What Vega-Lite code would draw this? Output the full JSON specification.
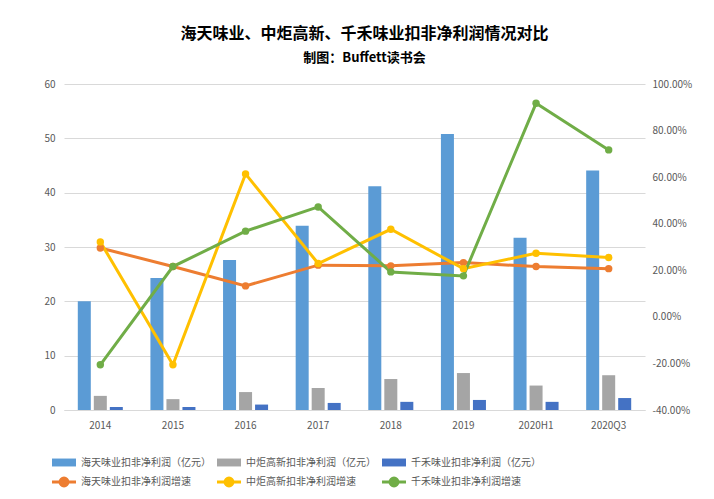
{
  "$schema": "https://vega.github.io/schema/vega-lite/v6.json",
  "width": 581,
  "height": 326,
  "autosize": "none",
  "padding": {"left": 64, "top": 84, "right": 69, "bottom": 89},
  "background": "white",
  "title": {
    "text": "海天味业、中炬高新、千禾味业扣非净利润情况对比",
    "subtitle": "制图：Buffett读书会",
    "anchor": "middle",
    "dx": 10,
    "offset": 14,
    "font": "Noto Sans CJK SC",
    "fontSize": 16,
    "fontWeight": "bold",
    "color": "#000000",
    "subtitleFont": "Noto Sans CJK SC",
    "subtitleFontSize": 13,
    "subtitleFontWeight": "bold",
    "subtitleColor": "#000000",
    "subtitlePadding": 10
  },
  "config": {
    "view": {"stroke": null},
    "axis": {
      "labelFont": "Noto Sans CJK SC",
      "labelFontSize": 10,
      "labelColor": "#595959",
      "domain": false,
      "ticks": false,
      "title": null
    },
    "legend": {
      "labelFont": "Noto Sans CJK SC",
      "labelFontSize": 10,
      "labelColor": "#595959"
    }
  },
  "datasets": {
    "profit": [
      {"period": "2014", "series": "海天味业扣非净利润（亿元）", "value": 20.0},
      {"period": "2014", "series": "中炬高新扣非净利润（亿元）", "value": 2.6},
      {"period": "2014", "series": "千禾味业扣非净利润（亿元）", "value": 0.55},
      {"period": "2015", "series": "海天味业扣非净利润（亿元）", "value": 24.3},
      {"period": "2015", "series": "中炬高新扣非净利润（亿元）", "value": 2.0},
      {"period": "2015", "series": "千禾味业扣非净利润（亿元）", "value": 0.55},
      {"period": "2016", "series": "海天味业扣非净利润（亿元）", "value": 27.6},
      {"period": "2016", "series": "中炬高新扣非净利润（亿元）", "value": 3.3},
      {"period": "2016", "series": "千禾味业扣非净利润（亿元）", "value": 1.0},
      {"period": "2017", "series": "海天味业扣非净利润（亿元）", "value": 33.9},
      {"period": "2017", "series": "中炬高新扣非净利润（亿元）", "value": 4.05},
      {"period": "2017", "series": "千禾味业扣非净利润（亿元）", "value": 1.3},
      {"period": "2018", "series": "海天味业扣非净利润（亿元）", "value": 41.2},
      {"period": "2018", "series": "中炬高新扣非净利润（亿元）", "value": 5.7},
      {"period": "2018", "series": "千禾味业扣非净利润（亿元）", "value": 1.5},
      {"period": "2019", "series": "海天味业扣非净利润（亿元）", "value": 50.8},
      {"period": "2019", "series": "中炬高新扣非净利润（亿元）", "value": 6.8},
      {"period": "2019", "series": "千禾味业扣非净利润（亿元）", "value": 1.85},
      {"period": "2020H1", "series": "海天味业扣非净利润（亿元）", "value": 31.7},
      {"period": "2020H1", "series": "中炬高新扣非净利润（亿元）", "value": 4.5},
      {"period": "2020H1", "series": "千禾味业扣非净利润（亿元）", "value": 1.5},
      {"period": "2020Q3", "series": "海天味业扣非净利润（亿元）", "value": 44.1},
      {"period": "2020Q3", "series": "中炬高新扣非净利润（亿元）", "value": 6.4},
      {"period": "2020Q3", "series": "千禾味业扣非净利润（亿元）", "value": 2.2}
    ],
    "growth": [
      {"period": "2014", "series": "海天味业扣非净利润增速", "rate": 0.296},
      {"period": "2015", "series": "海天味业扣非净利润增速", "rate": 0.216},
      {"period": "2016", "series": "海天味业扣非净利润增速", "rate": 0.133},
      {"period": "2017", "series": "海天味业扣非净利润增速", "rate": 0.222},
      {"period": "2018", "series": "海天味业扣非净利润增速", "rate": 0.219},
      {"period": "2019", "series": "海天味业扣非净利润增速", "rate": 0.233},
      {"period": "2020H1", "series": "海天味业扣非净利润增速", "rate": 0.216},
      {"period": "2020Q3", "series": "海天味业扣非净利润增速", "rate": 0.207},
      {"period": "2014", "series": "中炬高新扣非净利润增速", "rate": 0.322},
      {"period": "2015", "series": "中炬高新扣非净利润增速", "rate": -0.206},
      {"period": "2016", "series": "中炬高新扣非净利润增速", "rate": 0.614},
      {"period": "2017", "series": "中炬高新扣非净利润增速", "rate": 0.229},
      {"period": "2018", "series": "中炬高新扣非净利润增速", "rate": 0.376},
      {"period": "2019", "series": "中炬高新扣非净利润增速", "rate": 0.207},
      {"period": "2020H1", "series": "中炬高新扣非净利润增速", "rate": 0.273},
      {"period": "2020Q3", "series": "中炬高新扣非净利润增速", "rate": 0.255},
      {"period": "2014", "series": "千禾味业扣非净利润增速", "rate": -0.206},
      {"period": "2015", "series": "千禾味业扣非净利润增速", "rate": 0.216},
      {"period": "2016", "series": "千禾味业扣非净利润增速", "rate": 0.368},
      {"period": "2017", "series": "千禾味业扣非净利润增速", "rate": 0.472},
      {"period": "2018", "series": "千禾味业扣非净利润增速", "rate": 0.193},
      {"period": "2019", "series": "千禾味业扣非净利润增速", "rate": 0.176},
      {"period": "2020H1", "series": "千禾味业扣非净利润增速", "rate": 0.917},
      {"period": "2020Q3", "series": "千禾味业扣非净利润增速", "rate": 0.717}
    ]
  },
  "layer": [
    {
      "data": {"name": "profit"},
      "mark": {"type": "bar"},
      "encoding": {
        "x": {
          "field": "period",
          "type": "nominal",
          "sort": ["2014", "2015", "2016", "2017", "2018", "2019", "2020H1", "2020Q3"],
          "scale": {"paddingInner": 0.38, "paddingOuter": 0.19},
          "axis": {"labelAngle": 0, "domain": true, "domainColor": "#D9D9D9", "labelPadding": 10}
        },
        "xOffset": {
          "field": "series",
          "type": "nominal",
          "sort": ["海天味业扣非净利润（亿元）", "中炬高新扣非净利润（亿元）", "千禾味业扣非净利润（亿元）"],
          "scale": {"paddingInner": 0.1875, "paddingOuter": 0}
        },
        "y": {
          "field": "value",
          "type": "quantitative",
          "scale": {"domain": [0, 60]},
          "axis": {"values": [0, 10, 20, 30, 40, 50, 60], "grid": true, "gridColor": "#D9D9D9", "labelPadding": 9}
        },
        "color": {
          "field": "series",
          "type": "nominal",
          "scale": {
            "domain": ["海天味业扣非净利润（亿元）", "中炬高新扣非净利润（亿元）", "千禾味业扣非净利润（亿元）", "海天味业扣非净利润增速", "中炬高新扣非净利润增速", "千禾味业扣非净利润增速"],
            "range": ["#5B9BD5", "#A5A5A5", "#4472C4", "#ED7D31", "#FFC000", "#70AD47"]
          },
          "legend": {
            "orient": "none",
            "legendX": -5,
            "legendY": 371,
            "direction": "horizontal",
            "columns": 3,
            "columnPadding": 0,
            "gridAlign": "all",
            "title": null,
            "padding": 0,
            "rowPadding": 2,
            "labelOffset": 12,
            "encode": {
              "symbols": {
                "update": {
                  "shape": {"signal": "datum.index < 3 ? 'M-1,-0.33H1V0.33H-1Z' : 'M-1,0H1M0.33,0A0.33,0.33,0,1,1,-0.33,0A0.33,0.33,0,1,1,0.33,0Z'"},
                  "size": {"value": 576},
                  "fill": {"signal": "['#5B9BD5','#A5A5A5','#4472C4','#ED7D31','#FFC000','#70AD47'][datum.index]"},
                  "stroke": {"signal": "['#5B9BD5','#A5A5A5','#4472C4','#ED7D31','#FFC000','#70AD47'][datum.index]"},
                  "strokeWidth": {"signal": "datum.index < 3 ? 0 : 3"},
                  "opacity": {"value": 1},
                  "fillOpacity": {"value": 1}
                }
              }
            }
          }
        }
      }
    },
    {
      "data": {"name": "growth"},
      "mark": {"type": "line", "strokeWidth": 3, "point": {"filled": true, "size": 55}},
      "encoding": {
        "x": {
          "field": "period",
          "type": "nominal",
          "sort": ["2014", "2015", "2016", "2017", "2018", "2019", "2020H1", "2020Q3"]
        },
        "y": {
          "field": "rate",
          "type": "quantitative",
          "scale": {"domain": [-0.4, 1.0]},
          "axis": {
            "orient": "right",
            "values": [-0.4, -0.2, 0, 0.2, 0.4, 0.6, 0.8, 1.0],
            "format": ".2%",
            "labelExpr": "replace(datum.label, '−', '-')",
            "grid": false,
            "labelPadding": 7
          }
        },
        "color": {
          "field": "series",
          "type": "nominal"
        }
      }
    }
  ],
  "resolve": {"scale": {"y": "independent"}}
}
